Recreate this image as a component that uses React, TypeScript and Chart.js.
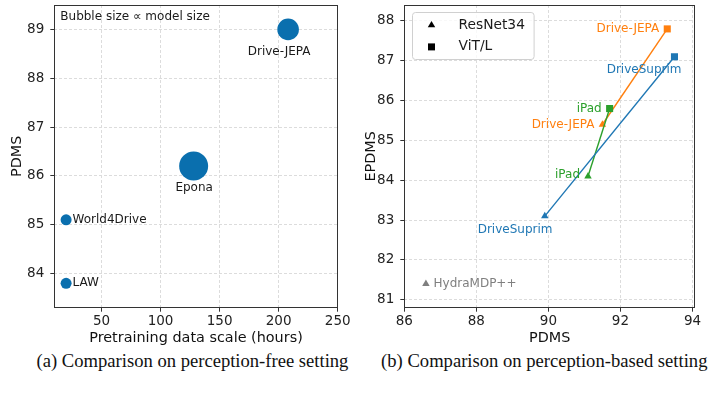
import React, { useEffect, useRef } from 'react';
import { Chart, registerables } from 'chart.js';

Chart.register(...registerables);

// ---------- (a) perception-free setting ----------
const freeModels = ['LAW', 'World4Drive', 'Epona', 'Drive-JEPA'];
const freeHours = [20, 20, 128, 208];
const freePDMS = [83.8, 85.1, 86.2, 89.0];
const freeBubbleRadius = [5.5, 5.5, 14.5, 10.8];
const freeXTicks = [50, 100, 150, 200, 250];
const freeYTicks = [84, 85, 86, 87, 88, 89];

// ---------- (b) perception-based setting ----------
const basedMethods = ['DriveSuprim', 'iPad', 'Drive-JEPA'];
const resnetPDMS = [89.9, 91.1, 91.5];
const resnetEPDMS = [83.1, 84.1, 85.4];
const vitPDMS = [93.5, 91.7, 93.3];
const vitEPDMS = [87.1, 85.8, 87.8];
const baselineNames = ['HydraMDP++'];
const baselinePDMS = [86.6];
const baselineEPDMS = [81.4];
const backboneNames = ['ResNet34', 'ViT/L'];
const basedXTicks = [86, 88, 90, 92, 94];
const basedYTicks = [81, 82, 83, 84, 85, 86, 87, 88];

const captionA = '(a) Comparison on perception-free setting';
const captionB = '(b) Comparison on perception-based setting';

const FONT = "'DejaVu Sans', sans-serif";
const BUBBLE = '#0a6fae';
const METHOD_COLORS = ['#1f77b4', '#2ca02c', '#ff7f0e'];
const GRAY = '#7f7f7f';
const TEXT = '#1a1a1a';

const framePlugin = {
  id: 'frame',
  afterDatasetsDraw(chart: any) {
    const { ctx, chartArea: a } = chart;
    ctx.save();
    ctx.strokeStyle = '#333333';
    ctx.lineWidth = 1;
    const l = Math.round(a.left) + 0.5;
    const t = Math.round(a.top) + 0.5;
    const r = Math.round(a.right) - 0.5;
    const b = Math.round(a.bottom) - 0.5;
    ctx.strokeRect(l, t, r - l, b - t);
    ctx.restore();
  },
};

const pointLabelPlugin = {
  id: 'pointLabels',
  afterDatasetsDraw(chart: any, _args: any, opts: any) {
    const items = (opts && opts.items) || [];
    const { ctx } = chart;
    ctx.save();
    ctx.font = `12px ${FONT}`;
    ctx.textBaseline = 'middle';
    for (const it of items) {
      const el = chart.getDatasetMeta(it.ds).data[it.i];
      if (!el) continue;
      ctx.fillStyle = it.color;
      ctx.textAlign = it.align;
      ctx.fillText(it.text, el.x + it.dx, el.y + it.dy);
    }
    ctx.restore();
  },
};

const notePlugin = {
  id: 'note',
  afterDatasetsDraw(chart: any, _args: any, opts: any) {
    if (!opts || !opts.text) return;
    const { ctx, chartArea: a } = chart;
    ctx.save();
    ctx.font = `12px ${FONT}`;
    ctx.textBaseline = 'middle';
    ctx.textAlign = 'left';
    ctx.fillStyle = TEXT;
    ctx.fillText(opts.text, a.left + 6, a.top + 11.7);
    ctx.restore();
  },
};

function drawMarker(ctx: CanvasRenderingContext2D, style: string, x: number, y: number) {
  ctx.beginPath();
  if (style === 'triangle') {
    const r = 4.3;
    ctx.moveTo(x, y - r);
    ctx.lineTo(x + r * 0.866, y + r * 0.5);
    ctx.lineTo(x - r * 0.866, y + r * 0.5);
    ctx.closePath();
  } else {
    const s = 3.5;
    ctx.rect(x - s, y - s, 2 * s, 2 * s);
  }
  ctx.fill();
}

const backboneLegendPlugin = {
  id: 'backboneLegend',
  afterDraw(chart: any, _args: any, opts: any) {
    const names: string[] = (opts && opts.names) || [];
    const styles = ['triangle', 'rect'];
    const { ctx, chartArea: a } = chart;
    const x0 = Math.round(a.left + 7.4) + 0.5;
    const y0 = Math.round(a.top + 7.3) + 0.5;
    const w = 121.6;
    const h = 47;
    const rad = 3;
    ctx.save();
    ctx.beginPath();
    ctx.moveTo(x0 + rad, y0);
    ctx.lineTo(x0 + w - rad, y0);
    ctx.arcTo(x0 + w, y0, x0 + w, y0 + rad, rad);
    ctx.lineTo(x0 + w, y0 + h - rad);
    ctx.arcTo(x0 + w, y0 + h, x0 + w - rad, y0 + h, rad);
    ctx.lineTo(x0 + rad, y0 + h);
    ctx.arcTo(x0, y0 + h, x0, y0 + h - rad, rad);
    ctx.lineTo(x0, y0 + rad);
    ctx.arcTo(x0, y0, x0 + rad, y0, rad);
    ctx.closePath();
    ctx.fillStyle = 'rgba(255,255,255,0.8)';
    ctx.fill();
    ctx.strokeStyle = '#d0d0d0';
    ctx.lineWidth = 1;
    ctx.stroke();
    ctx.font = `13.8px ${FONT}`;
    ctx.textBaseline = 'middle';
    ctx.textAlign = 'left';
    names.forEach((n, i) => {
      const y = y0 + 12.7 + i * 21.7;
      ctx.fillStyle = '#000000';
      drawMarker(ctx, styles[i], x0 + 19, y);
      ctx.fillStyle = TEXT;
      ctx.fillText(n, x0 + 46, y);
    });
    ctx.restore();
  },
};

function makeAxis(opts: {
  min: number;
  max: number;
  ticksList: number[];
  title: string;
  horizontal: boolean;
  size: number;
  titlePad: any;
}) {
  return {
    type: 'linear',
    min: opts.min,
    max: opts.max,
    afterBuildTicks: (s: any) => {
      s.ticks = opts.ticksList.map((v) => ({ value: v }));
    },
    afterFit: (s: any) => {
      if (opts.horizontal) s.height = opts.size;
      else s.width = opts.size;
      s.paddingLeft = 0;
      s.paddingRight = 0;
      s.paddingTop = 0;
      s.paddingBottom = 0;
    },
    ticks: {
      color: '#222222',
      font: { family: FONT, size: 13.5 },
      padding: opts.horizontal ? 2 : 6,
      callback: (v: any) => String(v),
      maxRotation: 0,
      autoSkip: false,
    },
    grid: {
      color: '#dcdcdc',
      lineWidth: 1,
      drawTicks: true,
      tickLength: 4,
      tickColor: '#333333',
      tickWidth: 1,
      tickBorderDash: [],
    },
    border: { display: false, dash: [3, 2] },
    title: {
      display: true,
      text: opts.title,
      color: '#111111',
      font: { family: FONT, size: 14.4 },
      padding: opts.titlePad,
    },
  };
}

function useChart(ref: React.RefObject<HTMLCanvasElement>, build: () => any) {
  useEffect(() => {
    if (!ref.current) return;
    const chart = new Chart(ref.current, build());
    return () => chart.destroy();
  }, []);
}

function FreeChart() {
  const ref = useRef<HTMLCanvasElement>(null);
  useChart(ref, () => ({
    type: 'bubble',
    data: {
      datasets: [
        {
          data: freeModels.map((_, i) => ({ x: freeHours[i], y: freePDMS[i], r: freeBubbleRadius[i] })),
          backgroundColor: BUBBLE,
          borderWidth: 0,
          clip: false,
        },
      ],
    },
    plugins: [framePlugin, pointLabelPlugin, notePlugin],
    options: {
      responsive: false,
      animation: false,
      devicePixelRatio: 1,
      events: [],
      layout: { autoPadding: false, padding: { left: 0, right: 22.3, top: 5, bottom: 0 } },
      plugins: {
        legend: { display: false },
        tooltip: { enabled: false },
        note: { text: 'Bubble size \u221d model size' },
        pointLabels: {
          items: [
            { ds: 0, i: 0, text: freeModels[0], dx: 6.4, dy: 0, align: 'left', color: TEXT },
            { ds: 0, i: 1, text: freeModels[1], dx: 6.4, dy: 0, align: 'left', color: TEXT },
            { ds: 0, i: 2, text: freeModels[2], dx: 0.5, dy: 22, align: 'center', color: TEXT },
            { ds: 0, i: 3, text: freeModels[3], dx: -9, dy: 22.5, align: 'center', color: TEXT },
          ],
        },
      },
      scales: {
        x: makeAxis({
          min: 10,
          max: 250,
          ticksList: freeXTicks,
          title: 'Pretraining data scale (hours)',
          horizontal: true,
          size: 42.3,
          titlePad: { top: 0, bottom: 3.2 },
        }),
        y: makeAxis({
          min: 83.3,
          max: 89.5,
          ticksList: freeYTicks,
          title: 'PDMS',
          horizontal: false,
          size: 54.3,
          titlePad: { top: 9.1, bottom: 0 },
        }),
      },
    },
  }));
  return <canvas ref={ref} width={360} height={350} style={{ width: 360, height: 350, display: 'block' }} />;
}

function BasedChart() {
  const ref = useRef<HTMLCanvasElement>(null);
  useChart(ref, () => {
    const methodSets = basedMethods.map((m, i) => ({
      label: m,
      data: [
        { x: resnetPDMS[i], y: resnetEPDMS[i] },
        { x: vitPDMS[i], y: vitEPDMS[i] },
      ],
      showLine: true,
      borderColor: METHOD_COLORS[i],
      backgroundColor: METHOD_COLORS[i],
      borderWidth: 1.4,
      pointStyle: ['triangle', 'rect'],
      pointRadius: [4.3, 5],
      pointBorderWidth: 0,
      pointHoverRadius: [4.3, 5],
      clip: false,
    }));
    const baseSet = {
      label: baselineNames[0],
      data: baselinePDMS.map((v, i) => ({ x: v, y: baselineEPDMS[i] })),
      showLine: false,
      borderColor: GRAY,
      backgroundColor: GRAY,
      pointStyle: 'triangle',
      pointRadius: 4.3,
      pointBorderWidth: 0,
      clip: false,
    };
    return {
      type: 'scatter',
      data: { datasets: [...methodSets, baseSet] },
      plugins: [framePlugin, pointLabelPlugin, backboneLegendPlugin],
      options: {
        responsive: false,
        animation: false,
        devicePixelRatio: 1,
        events: [],
        layout: { autoPadding: false, padding: { left: 0, right: 23, top: 5, bottom: 0 } },
        plugins: {
          legend: { display: false },
          tooltip: { enabled: false },
          backboneLegend: { names: backboneNames },
          pointLabels: {
            items: [
              { ds: 0, i: 0, text: basedMethods[0], dx: 7.7, dy: 13.3, align: 'right', color: METHOD_COLORS[0] },
              { ds: 0, i: 1, text: basedMethods[0], dx: 7, dy: 13.4, align: 'right', color: METHOD_COLORS[0] },
              { ds: 1, i: 0, text: basedMethods[1], dx: -8, dy: -1, align: 'right', color: METHOD_COLORS[1] },
              { ds: 1, i: 1, text: basedMethods[1], dx: -8, dy: 0, align: 'right', color: METHOD_COLORS[1] },
              { ds: 2, i: 0, text: basedMethods[2], dx: -8, dy: 0, align: 'right', color: METHOD_COLORS[2] },
              { ds: 2, i: 1, text: basedMethods[2], dx: -8, dy: 0, align: 'right', color: METHOD_COLORS[2] },
              { ds: 3, i: 0, text: baselineNames[0], dx: 7.6, dy: 0, align: 'left', color: GRAY },
            ],
          },
        },
        scales: {
          x: makeAxis({
            min: 86,
            max: 94.07,
            ticksList: basedXTicks,
            title: 'PDMS',
            horizontal: true,
            size: 42.3,
            titlePad: { top: 0, bottom: 3.2 },
          }),
          y: makeAxis({
            min: 80.8,
            max: 88.4,
            ticksList: basedYTicks,
            title: 'EPDMS',
            horizontal: false,
            size: 44.3,
            titlePad: { top: 2.6, bottom: 0 },
          }),
        },
      },
    };
  });
  return <canvas ref={ref} width={358} height={350} style={{ width: 358, height: 350, display: 'block' }} />;
}

const captionStyle = (cx: number): React.CSSProperties => ({
  position: 'absolute',
  left: cx - 200,
  width: 400,
  top: 352.4,
  textAlign: 'center',
  fontFamily: "'Liberation Serif', 'Times New Roman', serif",
  fontSize: 18.6,
  lineHeight: '18.6px',
  color: '#111111',
  whiteSpace: 'nowrap',
});

export default function App() {
  return (
    <div
      style={{
        position: 'fixed',
        left: 0,
        top: 0,
        width: 718,
        height: 399,
        background: '#ffffff',
        overflow: 'hidden',
      }}
    >
      <div style={{ position: 'absolute', left: 0, top: 0 }}>
        <FreeChart />
      </div>
      <div style={{ position: 'absolute', left: 360, top: 0 }}>
        <BasedChart />
      </div>
      <div style={captionStyle(192.5)}>{captionA}</div>
      <div style={captionStyle(544.3)}>{captionB}</div>
    </div>
  );
}
